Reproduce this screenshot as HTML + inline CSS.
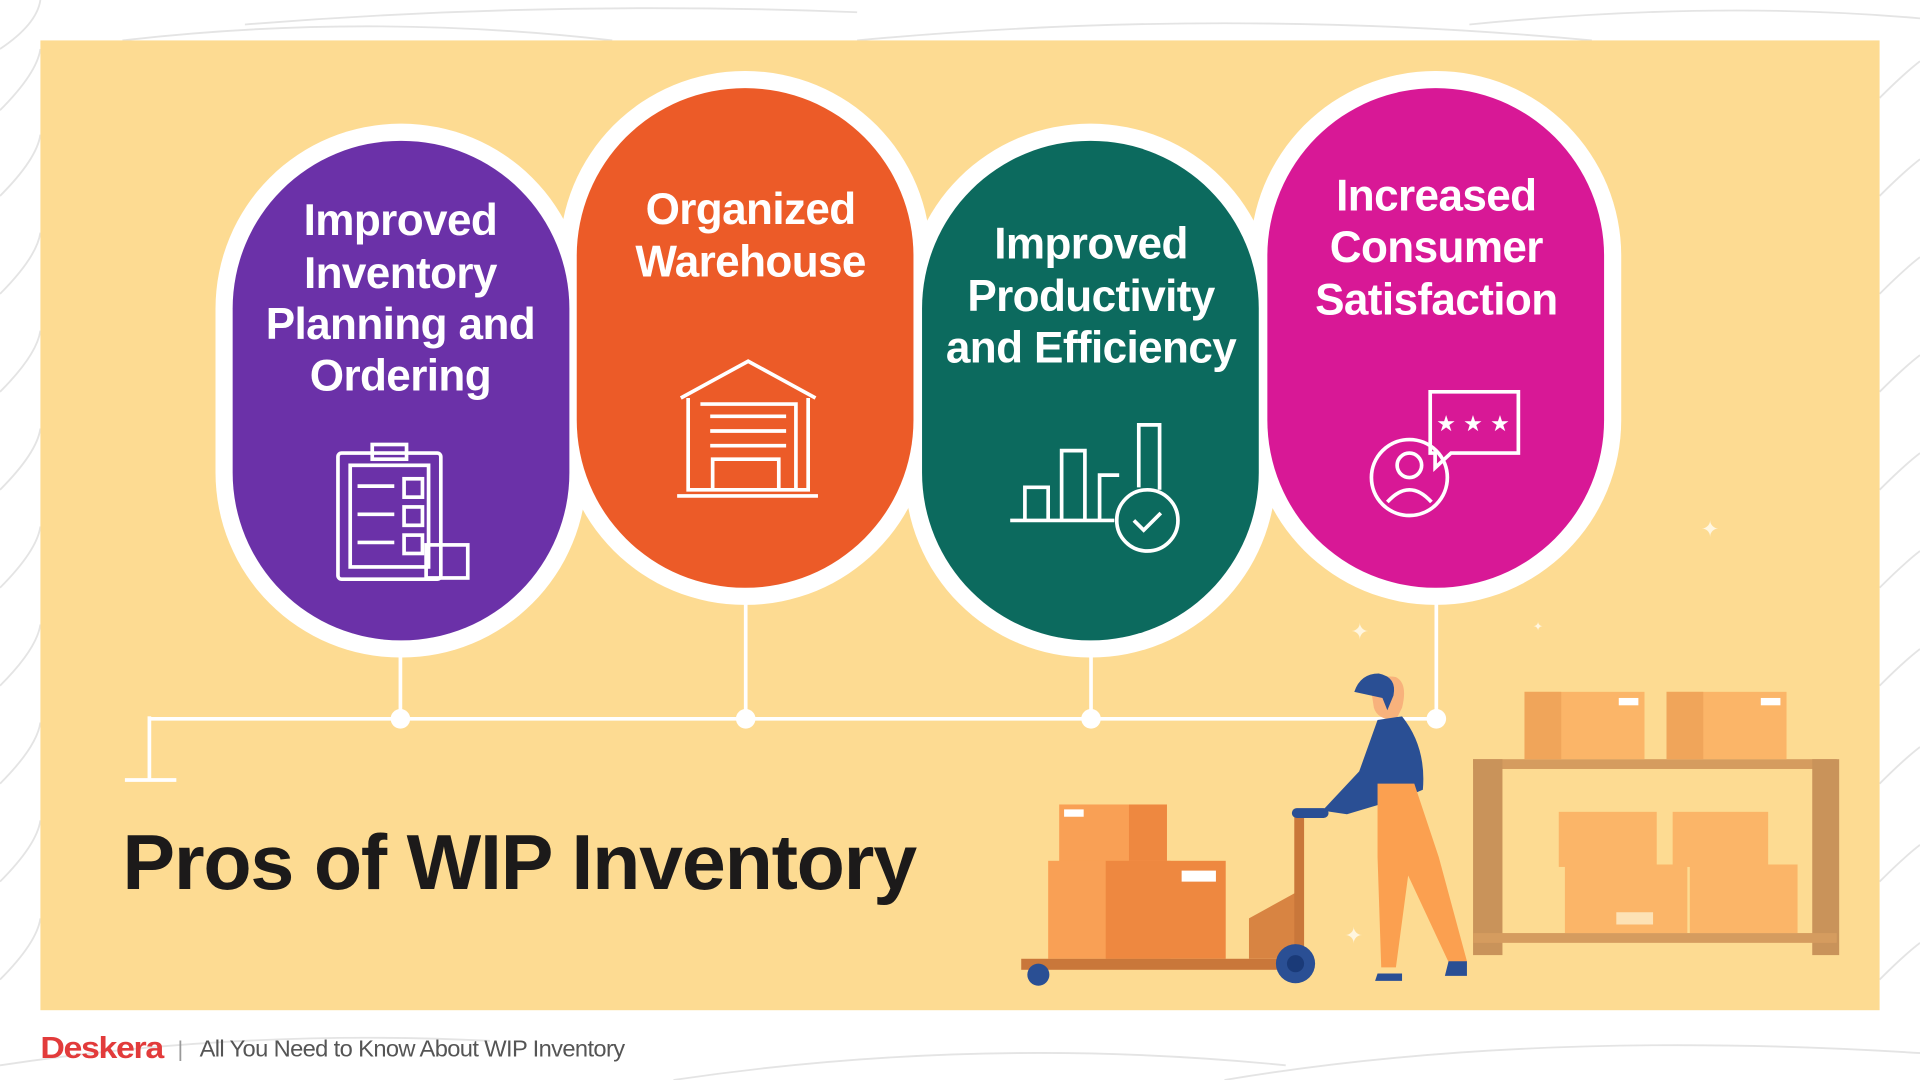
<!DOCTYPE html>
<html><head><meta charset="utf-8"><style>
html,body{margin:0;padding:0;background:#fff;overflow:hidden}
svg{display:block}
text{font-family:"Liberation Sans",sans-serif}
</style></head><body>
<svg width="1920" height="1080" viewBox="0 0 1568 882" xmlns="http://www.w3.org/2000/svg">
<rect width="1568" height="882" fill="#fff"/>
<g fill="none" stroke="#e4e4e4" stroke-width="1.5">
<path d="M0 40 Q30 20 33 0"/><path d="M0 90 Q30 60 33 40"/><path d="M0 160 Q30 130 33 110"/><path d="M0 240 Q30 210 33 190"/><path d="M0 320 Q30 290 33 270"/><path d="M0 400 Q30 370 33 350"/><path d="M0 480 Q30 450 33 430"/><path d="M0 560 Q30 530 33 510"/><path d="M0 640 Q30 610 33 590"/><path d="M0 720 Q30 690 33 670"/><path d="M0 800 Q30 770 33 750"/>
<path d="M100 33 Q300 10 500 33"/><path d="M200 20 Q450 0 700 10"/><path d="M700 33 Q1000 5 1300 33"/><path d="M1200 20 Q1400 0 1568 15"/>
<path d="M1535 80 Q1555 60 1568 50"/><path d="M1535 160 Q1555 140 1568 130"/><path d="M1535 240 Q1555 220 1568 210"/><path d="M1535 320 Q1555 300 1568 290"/><path d="M1535 400 Q1555 380 1568 370"/><path d="M1535 480 Q1555 460 1568 450"/><path d="M1535 560 Q1555 540 1568 530"/><path d="M1535 640 Q1555 620 1568 610"/><path d="M1535 720 Q1555 700 1568 690"/><path d="M1535 800 Q1555 780 1568 770"/>
<path d="M550 882 Q800 845 1050 870"/><path d="M1000 882 Q1250 840 1568 860"/><path d="M0 870 Q200 840 400 850"/>
</g>
<rect x="33" y="33" width="1502" height="792" fill="#FDDB92"/>
<g stroke="#fff" stroke-width="3" fill="none">
<path d="M122 587 H1173"/><path d="M122 585 V637"/><path d="M102 637 H144"/>
<path d="M327 520 V587"/><path d="M609 480 V587"/><path d="M891 520 V587"/><path d="M1173 480 V587"/>
</g>
<g fill="#fff"><circle cx="327" cy="587" r="8"/><circle cx="609" cy="587" r="8"/><circle cx="891" cy="587" r="8"/><circle cx="1173" cy="587" r="8"/></g>
<rect x="176" y="101" width="303" height="436" rx="151" fill="#fff"/>
<rect x="457" y="58" width="303" height="436" rx="151" fill="#fff"/>
<rect x="739" y="101" width="303" height="436" rx="151" fill="#fff"/>
<rect x="1021" y="58" width="303" height="436" rx="151" fill="#fff"/>
<rect x="190" y="115" width="275" height="408" rx="137" fill="#6B31A8"/>
<rect x="471" y="72" width="275" height="408" rx="137" fill="#EC5B28"/>
<rect x="753" y="115" width="275" height="408" rx="137" fill="#0C6A5E"/>
<rect x="1035" y="72" width="275" height="408" rx="137" fill="#D81896"/>
<g fill="#fff" font-weight="bold" font-size="36" text-anchor="middle" letter-spacing="-0.5">
<text x="327" y="192">Improved</text><text x="327" y="235">Inventory</text><text x="327" y="277">Planning and</text><text x="327" y="319">Ordering</text>
<text x="613" y="183">Organized</text><text x="613" y="226">Warehouse</text>
<text x="891" y="211">Improved</text><text x="891" y="254">Productivity</text><text x="891" y="296">and Efficiency</text>
<text x="1173" y="172">Increased</text><text x="1173" y="214">Consumer</text><text x="1173" y="257">Satisfaction</text>
</g>
<g stroke="#fff" stroke-width="3" fill="none">
<rect x="276" y="370" width="84" height="103" rx="3"/><rect x="286" y="380" width="64" height="83"/>
<rect x="304" y="363" width="28" height="12"/>
<path d="M292 397h30M292 420h30M292 443h30"/>
<rect x="330" y="391" width="15" height="15"/><rect x="330" y="414" width="15" height="15"/><rect x="330" y="437" width="15" height="15"/>
<rect x="348" y="445" width="34" height="27"/>
<path d="M556 325 L611 295 L666 325 M562 325 V400 H660 V325 M553 405 H668 M572 330 H650 V400 M580 340H642M580 352H642M580 364H642M582 375h54v25h-54z"/>
<path d="M825 425 H910 M837 425 V398 H856 V425 M867 425 V368 H886 V425 M898 425 V388 H914 M930 398 V347 H947 V400"/>
<circle cx="937" cy="425" r="25"/><path d="M926 425 l8 8 l14 -14"/>
<circle cx="1151" cy="390" r="31"/><circle cx="1151" cy="380" r="10"/><path d="M1133 410 q18 -20 36 0"/>
<path d="M1168 320 H1240 V370 H1185 L1172 382 V370 H1168 Z"/>
</g>
<g fill="#fff" font-size="18" text-anchor="middle"><text x="1181" y="352">★</text><text x="1203" y="352">★</text><text x="1225" y="352">★</text></g>
<text x="100" y="726" font-size="64" font-weight="bold" fill="#1c1a1a" letter-spacing="-1" textLength="648" lengthAdjust="spacingAndGlyphs">Pros of WIP Inventory</text>
<text x="33" y="864" font-size="25" font-weight="bold" fill="#E23B3B" letter-spacing="-1" textLength="100" lengthAdjust="spacingAndGlyphs">Deskera</text>
<text x="145" y="863" font-size="18" fill="#999">|</text>
<text x="163" y="863" font-size="19" fill="#555" letter-spacing="-0.5" textLength="347" lengthAdjust="spacingAndGlyphs">All You Need to Know About WIP Inventory</text>
<g fill="#FFF6E0" font-size="18"><text x="1389" y="438">✦</text><text x="1103" y="522">✦</text><text x="1098" y="770">✦</text><text x="1252" y="515" font-size="10">✦</text></g>
<rect x="1203" y="620" width="297" height="8" fill="#D59C5F"/>
<rect x="1203" y="620" width="24" height="160" fill="#C9935A"/>
<rect x="1480" y="620" width="22" height="160" fill="#C9935A"/>
<rect x="1203" y="762" width="297" height="8" fill="#D59C5F"/>
<g fill="#FBB568"><rect x="1245" y="565" width="98" height="55"/><rect x="1361" y="565" width="98" height="55"/>
<rect x="1273" y="663" width="80" height="45"/><rect x="1366" y="663" width="78" height="45"/>
<rect x="1278" y="706" width="100" height="56"/><rect x="1380" y="706" width="88" height="56"/></g>
<g fill="#F0A55A"><rect x="1245" y="565" width="30" height="55"/><rect x="1361" y="565" width="30" height="55"/></g>
<g fill="#fff"><rect x="1322" y="570" width="16" height="6"/><rect x="1438" y="570" width="16" height="6"/><rect x="1320" y="745" width="30" height="10" fill="#FDE2B5"/></g>
<rect x="865" y="657" width="88" height="48" fill="#F9A055"/>
<rect x="922" y="657" width="31" height="48" fill="#EE8840"/>
<rect x="856" y="703" width="100" height="80" fill="#F9A055"/>
<rect x="903" y="703" width="98" height="80" fill="#EE8840"/>
<rect x="869" y="661" width="16" height="6" fill="#fff"/><rect x="965" y="711" width="28" height="9" fill="#fff"/>
<rect x="834" y="783" width="225" height="9" fill="#C9773A"/>
<path d="M1020 783 V750 L1060 728 V783 Z" fill="#D88442"/>
<rect x="1057" y="665" width="8" height="120" fill="#C9773A"/>
<rect x="1055" y="660" width="30" height="8" rx="4" fill="#2A4F94"/>
<circle cx="848" cy="796" r="9" fill="#2A4F94"/><circle cx="1058" cy="787" r="16" fill="#2A4F94"/><circle cx="1058" cy="787" r="7" fill="#1A3A78"/>
<path d="M1120 565 q5 -15 20 -12 q10 5 5 25 l-5 10 q-15 0 -18 -10 Z" fill="#F8B27C"/>
<path d="M1106 565 q5 -15 20 -15 q15 3 12 18 l-5 12 l-4 -10 Z" fill="#2A4F94"/>
<path d="M1125 588 L1145 585 Q1165 610 1162 645 L1150 650 L1100 665 L1080 662 L1110 630 Z" fill="#2A4F94"/>
<path d="M1125 640 L1155 640 L1175 700 L1198 785 L1185 790 L1150 715 L1140 790 L1128 790 L1125 700 Z" fill="#FBA050"/>
<path d="M1125 795 h20 v6 h-22z M1183 785 h15 v12 h-18z" fill="#2A4F94"/>
</svg>
</body></html>
